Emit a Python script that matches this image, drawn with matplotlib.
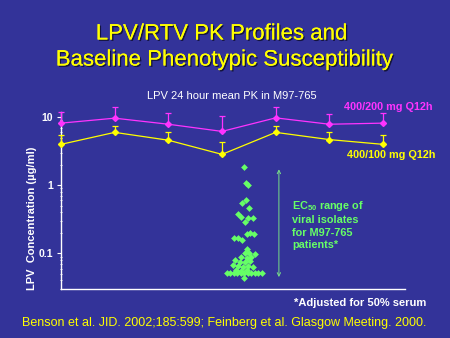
#!/usr/bin/env python3

import matplotlib
matplotlib.use("Agg")
import matplotlib.pyplot as plt
import matplotlib.patheffects as pe
from matplotlib.ticker import LogLocator, FixedLocator, FixedFormatter

# PK profiles (sampling index 0..6), LPV concentration in ug/ml
pk_times = [0, 1, 2, 3, 4, 5, 6]
rtv200_mean = [8.2, 9.7, 7.9, 6.2, 9.8, 7.9, 8.2]
rtv200_upper = [11.8, 14.0, 11.4, 10.3, 14.0, 11.1, 11.4]
rtv100_mean = [4.0, 6.0, 4.6, 2.85, 6.0, 4.7, 4.0]
rtv100_upper = [5.4, 7.4, 6.0, 4.3, 7.4, 6.0, 5.4]

# EC50 values of viral isolates (adjusted for 50% serum), with jitter position
ec50_x = [3.41, 3.44, 3.48, 3.38, 3.44, 3.51, 3.29, 3.36, 3.43, 3.49, 3.57,
          3.23, 3.30, 3.38, 3.46, 3.52, 3.60, 3.46,
          3.43, 3.51, 3.36, 3.46, 3.54, 3.61, 3.24, 3.33, 3.43, 3.52,
          3.21, 3.30, 3.39, 3.49, 3.58, 3.27, 3.36, 3.46,
          3.09, 3.15, 3.22, 3.28, 3.35, 3.41, 3.48, 3.54, 3.61, 3.67, 3.74,
          3.41]
ec50_val = [1.89, 1.10, 1.02, 0.55, 0.61, 0.46, 0.38, 0.34, 0.29, 0.33, 0.33,
            0.167, 0.17, 0.16, 0.19, 0.20, 0.19, 0.118,
            0.103, 0.101, 0.090, 0.087, 0.090, 0.097, 0.080, 0.076, 0.076, 0.078,
            0.068, 0.066, 0.064, 0.066, 0.063, 0.057, 0.056, 0.057,
            0.051, 0.051, 0.051, 0.051, 0.051, 0.051, 0.051, 0.051, 0.051, 0.051, 0.051,
            0.043]

bg = "#333399"
yellow = "#ffff00"
magenta = "#ff33ff"
green = "#66ff66"

plt.rcParams["font.family"] = ["Liberation Sans", "DejaVu Sans"]
plt.rcParams["mathtext.fontset"] = "custom"
plt.rcParams["mathtext.rm"] = "Liberation Sans:bold"
plt.rcParams["mathtext.bf"] = "Liberation Sans:bold"

fig = plt.figure(figsize=(4.5, 3.38), dpi=100, facecolor=bg)
ax = fig.add_axes([0.1356, 0.145, 0.9 - 0.1356, 0.669 - 0.145])
ax.set_facecolor(bg)

shadow = [pe.withSimplePatchShadow(offset=(1, -1), shadow_rgbFace="black", alpha=0.6), pe.Normal()]

def draw_series(mean, upper, color):
    lower_err = [0] * len(mean)
    upper_err = [u - m for u, m in zip(upper, mean)]
    ax.errorbar(pk_times, mean, yerr=[lower_err, upper_err], color=color, lw=0.9,
                elinewidth=0.9, capsize=2, capthick=0.9, marker="D", ms=3,
                clip_on=False, zorder=3)

draw_series(rtv200_mean, rtv200_upper, magenta)
draw_series(rtv100_mean, rtv100_upper, yellow)

ax.scatter(ec50_x, ec50_val, marker="D", s=12, color=green, linewidths=0, zorder=3)

# range arrow next to the EC50 cluster
ax.annotate("", xy=(4.06, min(ec50_val) * 0.95), xytext=(4.06, max(ec50_val)),
            arrowprops=dict(arrowstyle="<->", color="#77dd88", lw=0.7,
                            mutation_scale=6))

ax.set_yscale("log")
ax.set_ylim(0.03, 12)
ax.set_xlim(0, 6.41)
ax.set_xticks([])
ax.yaxis.set_major_locator(FixedLocator([0.1, 1, 10]))
ax.yaxis.set_major_formatter(FixedFormatter(["0.1", "1", "10"]))
ax.yaxis.set_minor_locator(LogLocator(base=10, subs=range(2, 10)))
ax.tick_params(axis="y", which="major", colors="white", labelsize=7.5, length=3, width=0.8, pad=3)
ax.tick_params(axis="y", which="minor", colors="white", length=2, width=0.6,
               labelleft=False, direction="inout")
for lbl in ax.get_yticklabels():
    lbl.set_fontweight("bold")
for side in ["top", "right"]:
    ax.spines[side].set_visible(False)
for side in ["left", "bottom"]:
    ax.spines[side].set_color("white")
    ax.spines[side].set_linewidth(1)

# titles and annotations
fig.text(0.493, 1 - 34 / 338, "LPV/RTV PK Profiles and", color=yellow, fontsize=16,
         ha="center", va="center", path_effects=shadow)
fig.text(0.5, 1 - 60 / 338, "Baseline Phenotypic Susceptibility", color=yellow, fontsize=16,
         ha="center", va="center", path_effects=shadow)
fig.text(232 / 450, 1 - 96 / 338, "LPV 24 hour mean PK in M97-765", color="white",
         fontsize=8, ha="center", va="center")
fig.text(432 / 450, 1 - 107 / 338, "400/200 mg Q12h", color=magenta, fontsize=7.8,
         fontweight="bold", ha="right", va="center")
fig.text(435 / 450, 1 - 155 / 338, "400/100 mg Q12h", color=yellow, fontsize=7.8,
         fontweight="bold", ha="right", va="center")
fig.text(292 / 450, 1 - 199 / 338,
         "EC$_{50}$ range of\nviral isolates\nfor M97-765\npatients*",
         color=green, fontsize=7.8, fontweight="bold", ha="left", va="top", linespacing=1.3)
fig.text(32 / 450, 1 - 218 / 338, "LPV  Concentration (\u00b5g/ml)", color="white",
         fontsize=8, fontweight="bold", rotation=90, ha="center", va="center")
fig.text(426 / 450, 1 - 303 / 338, "*Adjusted for 50% serum", color="white", fontsize=8,
         fontweight="bold", ha="right", va="center")
fig.text(224 / 450, 1 - 323 / 338,
         "Benson et al. JID. 2002;185:599; Feinberg et al. Glasgow Meeting. 2000.",
         color=yellow, fontsize=9, ha="center", va="center")

fig.savefig("out.png", dpi=100, facecolor=bg)
